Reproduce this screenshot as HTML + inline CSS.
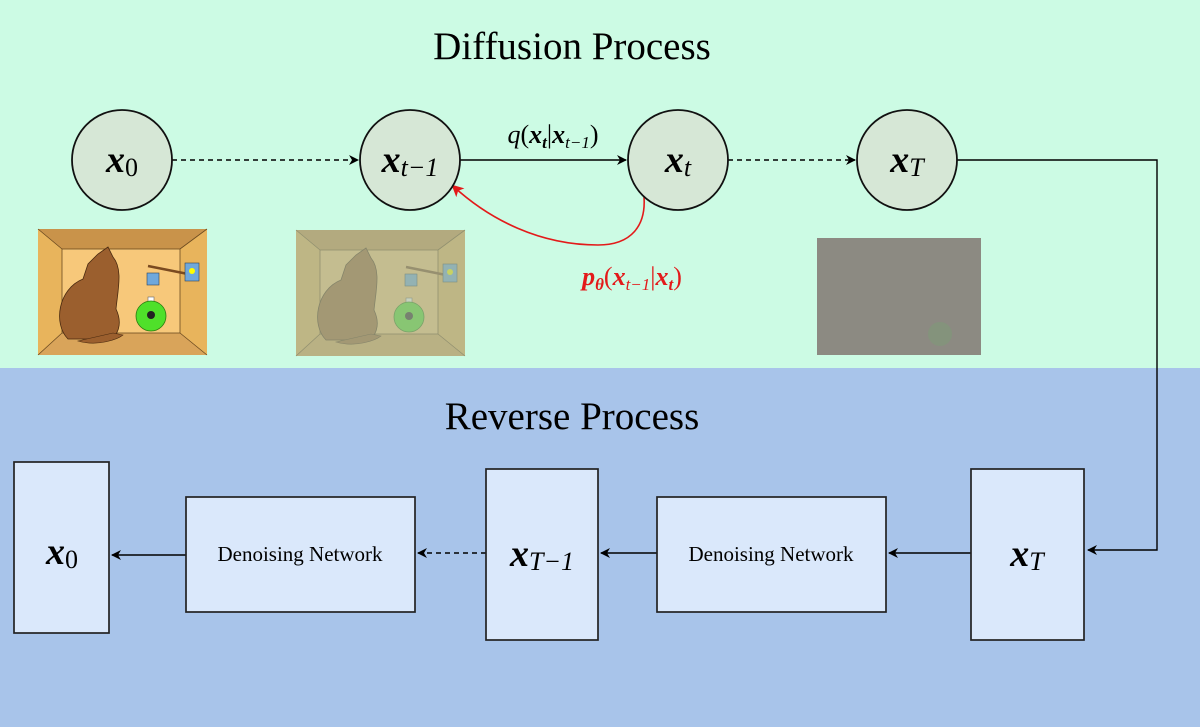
<!DOCTYPE html>
<html><head><meta charset="utf-8"><style>
html,body{margin:0;padding:0;width:1200px;height:727px;overflow:hidden}
svg{display:block}
text{font-family:"Liberation Serif",serif}
.m{font-weight:bold;font-style:italic}
</style></head><body>
<svg width="1200" height="727" viewBox="0 0 1200 727" xmlns="http://www.w3.org/2000/svg">
<defs>
<marker id="a" markerWidth="10" markerHeight="10" refX="9" refY="5" orient="auto" markerUnits="userSpaceOnUse"><path d="M0,0 L10,5 L0,10 L3,5 Z" fill="#000"/></marker>
<marker id="r" markerWidth="12" markerHeight="12" refX="10" refY="6" orient="auto" markerUnits="userSpaceOnUse"><path d="M0,0 L12,6 L0,12 L3,6 Z" fill="#e31a1a"/></marker>
<g id="cat">
<rect x="0" y="0" width="169" height="126" fill="#e8b45c"/>
<polygon points="0,0 169,0 142,20 24,20" fill="#c9934a"/>
<polygon points="0,126 169,126 142,104 24,104" fill="#d9a45a"/>
<rect x="24" y="20" width="118" height="84" fill="#f7c87a"/>
<line x1="0" y1="0" x2="24" y2="20" stroke="#6b4a20" stroke-width="0.8"/><line x1="169" y1="0" x2="142" y2="20" stroke="#6b4a20" stroke-width="0.8"/>
<line x1="0" y1="126" x2="24" y2="104" stroke="#6b4a20" stroke-width="0.8"/><line x1="169" y1="126" x2="142" y2="104" stroke="#6b4a20" stroke-width="0.8"/>
<rect x="24" y="20" width="118" height="84" fill="none" stroke="#6b4a20" stroke-width="0.8"/>
<path d="M30,110 C15,95 20,60 45,50 L50,35 L60,25 L70,18 L75,28 C85,40 80,60 78,80 C85,95 80,108 70,110 Z" fill="#9b5f2e" stroke="#4a2a10" stroke-width="0.8"/>
<path d="M40,112 C60,118 80,110 85,106 L75,104 Z" fill="#9b5f2e" stroke="#4a2a10" stroke-width="0.6"/>
<line x1="110" y1="37" x2="150" y2="45" stroke="#7a4a20" stroke-width="2.5"/>
<rect x="147" y="34" width="14" height="18" fill="#6fa8dc" stroke="#345" stroke-width="0.6"/>
<circle cx="154" cy="42" r="3" fill="#ff0"/>
<rect x="109" y="44" width="12" height="12" fill="#6fa8dc" stroke="#345" stroke-width="0.6"/>
<rect x="110" y="68" width="6" height="8" fill="#fff" stroke="#666" stroke-width="0.6"/>
<circle cx="113" cy="87" r="15" fill="#4fe02a" stroke="#2a7a10" stroke-width="0.8"/>
<circle cx="113" cy="86" r="4" fill="#222"/>
</g>
</defs>
<rect x="0" y="0" width="1200" height="368" fill="#ccfbe4"/>
<rect x="0" y="368" width="1200" height="359" fill="#a8c4ea"/>
<text x="572" y="59" font-size="39" text-anchor="middle">Diffusion Process</text>
<text x="572" y="429" font-size="39" text-anchor="middle">Reverse Process</text>

<line x1="172" y1="160" x2="358" y2="160" stroke="#000" stroke-width="1.4" stroke-dasharray="5,4" marker-end="url(#a)"/>
<line x1="460" y1="160" x2="626" y2="160" stroke="#000" stroke-width="1.6" marker-end="url(#a)"/>
<line x1="728" y1="160" x2="855" y2="160" stroke="#000" stroke-width="1.4" stroke-dasharray="5,4" marker-end="url(#a)"/>
<polyline points="957,160 1157,160 1157,550 1088,550" fill="none" stroke="#000" stroke-width="1.4" marker-end="url(#a)"/>
<path d="M644,197 C646,225 632,245 598,245 C540,245 490,220 453,186" fill="none" stroke="#e31a1a" stroke-width="1.6" marker-end="url(#r)"/>
<text x="553" y="143" font-size="26" text-anchor="middle"><tspan font-style="italic">q</tspan>(<tspan class="m">x</tspan><tspan class="m" font-size="17" dy="5">t</tspan><tspan dy="-5">|</tspan><tspan class="m">x</tspan><tspan font-style="italic" font-size="17" dy="5">t−1</tspan><tspan dy="-5">)</tspan></text>
<text x="632" y="285" font-size="26" text-anchor="middle" fill="#e31a1a"><tspan class="m">p</tspan><tspan class="m" font-size="17" dy="5">θ</tspan><tspan dy="-5">(</tspan><tspan class="m">x</tspan><tspan font-style="italic" font-size="17" dy="5">t−1</tspan><tspan dy="-5">|</tspan><tspan class="m">x</tspan><tspan class="m" font-size="17" dy="5">t</tspan><tspan dy="-5">)</tspan></text>

<g fill="#d6e7d6" stroke="#111" stroke-width="1.8">
<circle cx="122" cy="160" r="50"/><circle cx="410" cy="160" r="50"/><circle cx="678" cy="160" r="50"/><circle cx="907" cy="160" r="50"/>
</g>
<g font-size="38">
<text x="122" y="172" text-anchor="middle"><tspan class="m">x</tspan><tspan font-size="26" dy="4">0</tspan></text>
<text x="410" y="172" text-anchor="middle"><tspan class="m">x</tspan><tspan font-style="italic" font-size="26" dy="4">t−1</tspan></text>
<text x="678" y="172" text-anchor="middle"><tspan class="m">x</tspan><tspan font-style="italic" font-size="26" dy="4">t</tspan></text>
<text x="907" y="172" text-anchor="middle"><tspan class="m">x</tspan><tspan font-style="italic" font-size="26" dy="4">T</tspan></text>
</g>

<use href="#cat" x="38" y="229"/>
<g opacity="0.55"><use href="#cat" x="296" y="230"/></g>
<rect x="296" y="230" width="169" height="126" fill="#8a8060" opacity="0.35"/>
<rect x="817" y="238" width="164" height="117" fill="#8c8a82"/>
<circle cx="940" cy="334" r="12" fill="#7f9a78" opacity="0.6"/>

<line x1="186" y1="555" x2="112" y2="555" stroke="#000" stroke-width="1.6" marker-end="url(#a)"/>
<line x1="486" y1="553" x2="418" y2="553" stroke="#000" stroke-width="1.4" stroke-dasharray="5,4" marker-end="url(#a)"/>
<line x1="657" y1="553" x2="601" y2="553" stroke="#000" stroke-width="1.6" marker-end="url(#a)"/>
<line x1="971" y1="553" x2="889" y2="553" stroke="#000" stroke-width="1.6" marker-end="url(#a)"/>
<g fill="#dae8fb" stroke="#222" stroke-width="1.7">
<rect x="14" y="462" width="95" height="171"/>
<rect x="186" y="497" width="229" height="115"/>
<rect x="486" y="469" width="112" height="171"/>
<rect x="657" y="497" width="229" height="115"/>
<rect x="971" y="469" width="113" height="171"/>
</g>
<text x="300" y="561" font-size="21" text-anchor="middle">Denoising Network</text>
<text x="771" y="561" font-size="21" text-anchor="middle">Denoising Network</text>
<g font-size="38">
<text x="62" y="564" text-anchor="middle"><tspan class="m">x</tspan><tspan font-size="26" dy="4">0</tspan></text>
<text x="542" y="566" text-anchor="middle"><tspan class="m">x</tspan><tspan font-style="italic" font-size="26" dy="4">T−1</tspan></text>
<text x="1027" y="566" text-anchor="middle"><tspan class="m">x</tspan><tspan font-style="italic" font-size="26" dy="4">T</tspan></text>
</g>
</svg>
</body></html>
